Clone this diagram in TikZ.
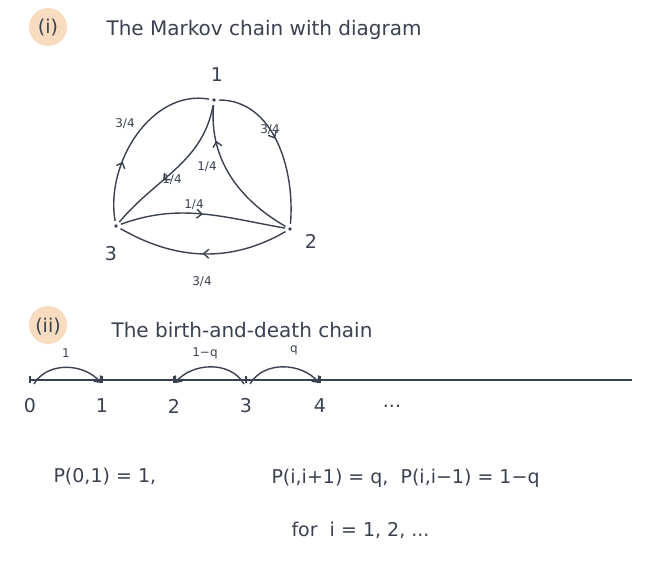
\documentclass[tikz,border=0pt]{standalone}
\usepackage{fontspec}
\setmainfont{DejaVu Sans}
\usetikzlibrary{arrows.meta,decorations.markings}
\definecolor{ink}{HTML}{3A4150}
\definecolor{peach}{HTML}{F8DCC0}
\begin{document}
\begin{tikzpicture}[x=1pt,y=-1pt,
  every node/.style={text=ink,font=\fontsize{19}{21}\selectfont},
  small/.style={font=\fontsize{12}{13}\selectfont},
  st/.style={circle,fill=ink,inner sep=1.4pt},
  edge/.style={draw=ink,line width=1.4pt,shorten <=3pt,shorten >=3pt,postaction={decorate},
    decoration={markings,mark=at position #1 with {\arrow{Straight Barb[length=5pt,width=9pt]}}}},
  edge/.default=0.5,
  hop/.style={draw=ink,line width=1.4pt,-{Straight Barb[length=5pt,width=9pt]}}]
\useasboundingbox (0,0) rectangle (662,566);
\fill[peach] (48,27) circle (19);
\node (t1) at (48,28) {(i)};
\node[anchor=west,font=\fontsize{20}{22}\selectfont] (h1) at (103,30) {The Markov chain with diagram};
\node[st] (n1) at (214,100) {};
\node[st] (n2) at (290,229) {};
\node[st] (n3) at (116,226) {};
\node (l1) at (217,75) {1};
\node (l2) at (311,241) {2};
\node (l3) at (111,254) {3};
\draw[edge=0.35] (n3) to[out=100,in=170] (n1);
\draw[edge=0.45] (n1) to[out=0,in=85] (n2);
\draw[edge=0.6] (n1) to[out=-100,in=50] (n3);
\draw[edge=0.75] (n2) to[out=150,in=-95] (n1);
\draw[edge=0.5] (n3) to[out=20,in=170] (n2);
\draw[edge=0.5] (n2) to[out=-150,in=-30] (n3);
\node[small] (a1) at (125,124) {3/4};
\node[small] (a2) at (270,130) {3/4};
\node[small] (a3) at (172,180) {1/4};
\node[small] (a4) at (207,167) {1/4};
\node[small] (a5) at (194,205) {1/4};
\node[small] (a6) at (202,282) {3/4};
\fill[peach] (48,325) circle (19);
\node (t2) at (48,327) {(ii)};
\node[anchor=west,font=\fontsize{20}{22}\selectfont] (h2) at (108,330) {The birth-and-death chain};
\coordinate (s) at (30,380);
\coordinate (e) at (632,380);
\draw[ink,line width=1.4pt] (s) -- (e);
\foreach \x/\k in {30/0,102/1,174/2,246/3,320/4}{
  \coordinate (p\k) at (\x,380);
  \draw[ink,line width=1.4pt] (\x,376) -- (\x,383);
  \node (q\k) at (\x,406) {\k};
}
\node (dots) at (392,406) {...};
\draw[hop] ([xshift=4pt,yshift=-4pt]p0) to[out=60,in=130] ([xshift=-1pt,yshift=-3pt]p1);
\draw[hop] ([xshift=-2pt,yshift=-4pt]p3) to[out=120,in=50] ([xshift=1pt,yshift=-3pt]p2);
\draw[hop] ([xshift=4pt,yshift=-4pt]p3) to[out=60,in=130] ([xshift=-1pt,yshift=-3pt]p4);
\node[small] (c1) at (66,353) {1};
\node[small] (c2) at (205,353) {1−q};
\node[small] (c3) at (294,350) {q};
\node[anchor=west] (f1) at (50,477) {P(0,1) = 1,};
\node[anchor=west] (f2) at (268,478) {P(i,i+1) = q,\ \ P(i,i−1) = 1−q};
\node[anchor=west] (f3) at (288,530) {for\ \ i = 1, 2, ...};
\end{tikzpicture}
\end{document}
